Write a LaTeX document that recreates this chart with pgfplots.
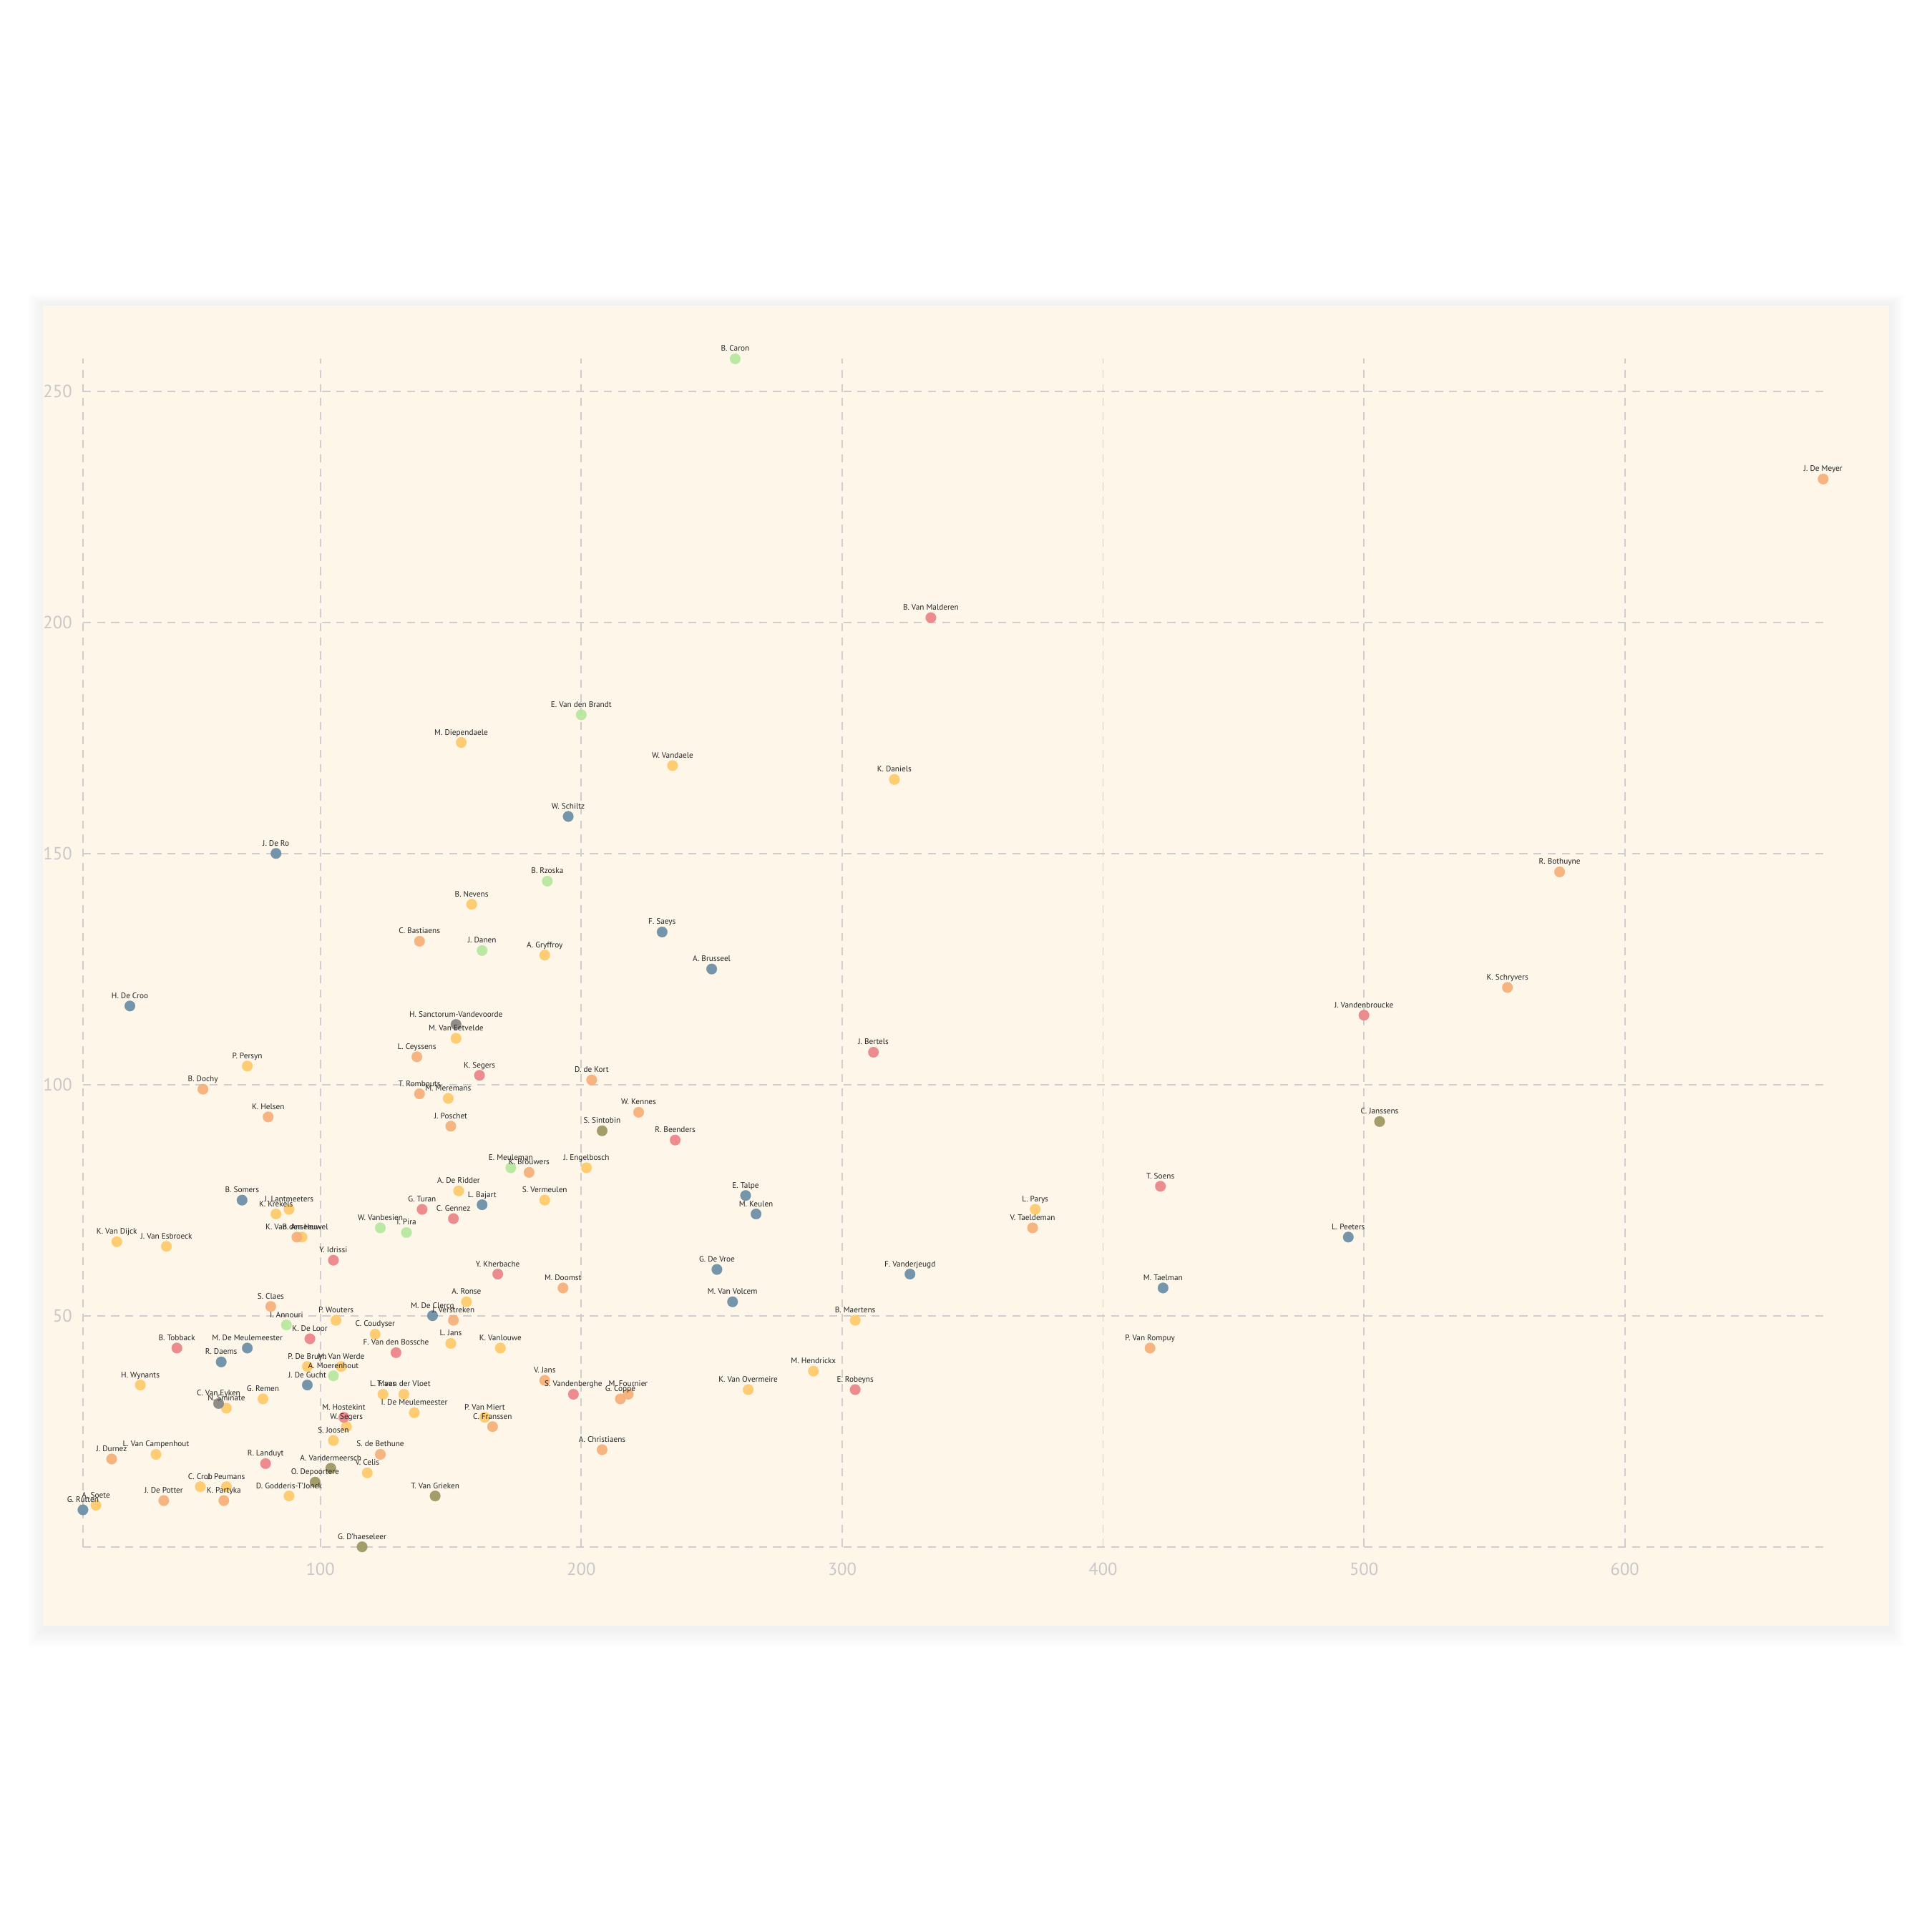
\documentclass[border=0pt]{standalone}
\usepackage{fontspec}
\setmainfont{PT Sans}
\usepackage{pgfplots}
\usepackage{pgfplotstable}
\pgfplotsset{compat=1.18}
\definecolor{panel}{HTML}{FDF6E9}
\definecolor{gridc}{HTML}{CFCDCD}
\definecolor{tickc}{HTML}{C9C7C7}
\definecolor{cblue}{HTML}{6A8DA5}
\definecolor{corange}{HTML}{F6AF79}
\definecolor{cyellow}{HTML}{FEC96A}
\definecolor{cred}{HTML}{EC8487}
\definecolor{cgreen}{HTML}{B6E89E}
\definecolor{colive}{HTML}{9C975F}
\definecolor{cgray}{HTML}{858580}

\pgfplotstableread[col sep=comma,row sep=\\]{
x,y,label\\
27,117,H. De Croo\\
83,150,J. De Ro\\
195,158,W. Schiltz\\
231,133,F. Saeys\\
250,125,A. Brusseel\\
70,75,B. Somers\\
162,74,L. Bajart\\
263,76,E. Talpe\\
267,72,M. Keulen\\
252,60,G. De Vroe\\
258,53,M. Van Volcem\\
326,59,F. Vanderjeugd\\
494,67,L. Peeters\\
423,56,M. Taelman\\
143,50,M. De Clercq\\
72,43,M. De Meulemeester\\
62,40,R. Daems\\
95,35,J. De Gucht\\
9,8,G. Rutten\\
}\tblue

\pgfplotstableread[col sep=comma,row sep=\\]{
x,y,label\\
676,231,J. De Meyer\\
575,146,R. Bothuyne\\
555,121,K. Schryvers\\
138,131,C. Bastiaens\\
137,106,L. Ceyssens\\
204,101,D. de Kort\\
55,99,B. Dochy\\
138,98,T. Rombouts\\
80,93,K. Helsen\\
222,94,W. Kennes\\
150,91,J. Poschet\\
180,81,K. Brouwers\\
373,69,V. Taeldeman\\
91,67,K. Van den Heuvel\\
81,52,S. Claes\\
193,56,M. Doomst\\
151,49,J. Verstreken\\
418,43,P. Van Rompuy\\
186,36,V. Jans\\
215,32,G. Coppé\\
218,33,M. Fournier\\
166,26,C. Franssen\\
208,21,A. Christiaens\\
123,20,S. de Bethune\\
20,19,J. Durnez\\
40,10,J. De Potter\\
63,10,K. Partyka\\
}\torange

\pgfplotstableread[col sep=comma,row sep=\\]{
x,y,label\\
154,174,M. Diependaele\\
235,169,W. Vandaele\\
320,166,K. Daniels\\
158,139,B. Nevens\\
186,128,A. Gryffroy\\
152,110,M. Van Eetvelde\\
72,104,P. Persyn\\
149,97,M. Meremans\\
202,82,J. Engelbosch\\
153,77,A. De Ridder\\
186,75,S. Vermeulen\\
83,72,K. Krekels\\
88,73,J. Lantmeeters\\
374,73,L. Parys\\
93,67,B. Anseeuw\\
22,66,K. Van Dijck\\
41,65,J. Van Esbroeck\\
156,53,A. Ronse\\
106,49,P. Wouters\\
305,49,B. Maertens\\
121,46,C. Coudyser\\
150,44,L. Jans\\
169,43,K. Vanlouwe\\
95,39,P. De Bruyn\\
108,39,M. Van Werde\\
289,38,M. Hendrickx\\
31,35,H. Wynants\\
264,34,K. Van Overmeire\\
64,30,N. Sminate\\
78,32,G. Remen\\
124,33,L. Maes\\
132,33,T. van der Vloet\\
136,29,I. De Meulemeester\\
110,26,W. Segers\\
163,28,P. Van Miert\\
105,23,S. Joosen\\
37,20,L. Van Campenhout\\
118,16,V. Celis\\
54,13,C. Crob\\
64,13,J. Peumans\\
88,11,D. Godderis-T'Jonck\\
14,9,A. Soete\\
}\tyellow

\pgfplotstableread[col sep=comma,row sep=\\]{
x,y,label\\
334,201,B. Van Malderen\\
500,115,J. Vandenbroucke\\
312,107,J. Bertels\\
161,102,K. Segers\\
236,88,R. Beenders\\
422,78,T. Soens\\
139,73,G. Turan\\
151,71,C. Gennez\\
105,62,Y. Idrissi\\
168,59,Y. Kherbache\\
96,45,K. De Loor\\
45,43,B. Tobback\\
129,42,F. Van den Bossche\\
197,33,S. Vandenberghe\\
305,34,E. Robeyns\\
109,28,M. Hostekint\\
79,18,R. Landuyt\\
}\tred

\pgfplotstableread[col sep=comma,row sep=\\]{
x,y,label\\
259,257,B. Caron\\
200,180,E. Van den Brandt\\
187,144,B. Rzoska\\
162,129,J. Danen\\
173,82,E. Meuleman\\
123,69,W. Vanbesien\\
133,68,I. Pira\\
87,48,I. Annouri\\
105,37,A. Moerenhout\\
}\tgreen

\pgfplotstableread[col sep=comma,row sep=\\]{
x,y,label\\
208,90,S. Sintobin\\
506,92,C. Janssens\\
104,17,A. Vandermeersch\\
98,14,O. Depoortere\\
144,11,T. Van Grieken\\
116,0,G. D'haeseleer\\
}\tolive

\pgfplotstableread[col sep=comma,row sep=\\]{
x,y,label\\
152,113,H. Sanctorum-Vandevoorde\\
61,31,C. Van Eyken\\
}\tgray

\begin{document}
\begin{tikzpicture}
\useasboundingbox (0,0) rectangle (270mm,270mm);
\foreach \k in {1,...,14} {
  \fill[black,opacity=0.0055] ({6mm-\k*0.15mm},{42.8mm-\k*0.19mm-0.4mm}) rectangle ({264mm+\k*0.15mm},{227.3mm+\k*0.12mm});
}
\fill[panel] (6mm,42.8mm) rectangle (264mm,227.3mm);
\begin{axis}[
  at={(11.59mm,53.83mm)}, anchor=south west,
  width=243.19mm, height=166.02mm, scale only axis,
  xmin=9, xmax=676, ymin=0, ymax=257,
  xtick={100,200,...,600}, ytick={50,100,...,250},
  grid=major,
  major grid style={draw=gridc, line width=0.55pt, dash pattern=on 3.2pt off 2.4pt},
  axis x line*=bottom, axis y line*=left,
  axis line style={draw=gridc, line width=0.55pt, dash pattern=on 3.2pt off 2.4pt, -},
  major tick length=0pt,
  tick label style={font=\fontsize{7}{8}\selectfont, text=tickc},
  /pgf/number format/assume math mode=true,
  xticklabel style={yshift=-2.7pt},
  yticklabel style={xshift=-0.8pt},
  clip=false,
  mk/.style={color=#1, only marks, mark=*, mark size=2.1pt, mark options={solid, draw=#1, fill=#1, line width=0.05pt, opacity=0.92}},
  lb/.style={only marks, mark=none, point meta=explicit symbolic, nodes near coords,
    every node near coord/.append style={anchor=base, yshift=3pt, inner sep=0pt,
      font=\fontsize{3.2}{3.8}\selectfont, text=black!85}},
]
\addplot[mk=cyellow] table[x=x,y=y] {\tyellow};
\addplot[mk=corange] table[x=x,y=y] {\torange};
\addplot[mk=cred] table[x=x,y=y] {\tred};
\addplot[mk=cgreen] table[x=x,y=y] {\tgreen};
\addplot[mk=cblue] table[x=x,y=y] {\tblue};
\addplot[mk=colive] table[x=x,y=y] {\tolive};
\addplot[mk=cgray] table[x=x,y=y] {\tgray};
\addplot[lb] table[x=x,y=y,meta=label] {\tyellow};
\addplot[lb] table[x=x,y=y,meta=label] {\torange};
\addplot[lb] table[x=x,y=y,meta=label] {\tred};
\addplot[lb] table[x=x,y=y,meta=label] {\tgreen};
\addplot[lb] table[x=x,y=y,meta=label] {\tblue};
\addplot[lb] table[x=x,y=y,meta=label] {\tolive};
\addplot[lb] table[x=x,y=y,meta=label] {\tgray};
\end{axis}
\end{tikzpicture}
\end{document}
